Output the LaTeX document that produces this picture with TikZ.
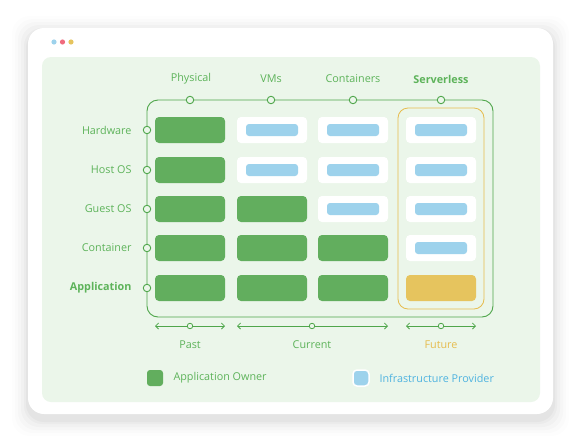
\documentclass[tikz,border=0pt]{standalone}
\usepackage{fontspec}
\setmainfont{Open Sans}
\usetikzlibrary{arrows.meta}
\definecolor{panel}{HTML}{EBF6EA}
\definecolor{cgreen}{HTML}{62AE5E}
\definecolor{tgreen}{HTML}{5DB35A}
\definecolor{lgreen}{HTML}{4FA64B}
\definecolor{cblue}{HTML}{9DD2EC}
\definecolor{tblue}{HTML}{4FB3E0}
\definecolor{cyellow}{HTML}{E6C45E}
\definecolor{tyellow}{HTML}{E6BC4E}
\definecolor{dred}{HTML}{F06B7E}
\tikzset{
  x=1pt, y=-1pt,
  ownerbox/.style={fill=cgreen, rounded corners=4pt, minimum width=70pt, minimum height=26pt, inner sep=0pt},
  whitebox/.style={fill=white, rounded corners=4pt, minimum width=70pt, minimum height=26pt, inner sep=0pt},
  bluebar/.style={fill=cblue, rounded corners=3pt, minimum width=52pt, minimum height=12pt, inner sep=0pt},
  futurebox/.style={fill=cyellow, rounded corners=4pt, minimum width=70pt, minimum height=26pt, inner sep=0pt},
  pin/.style={circle, draw=lgreen, fill=panel, line width=0.9pt, minimum size=7.5pt, inner sep=0pt},
  smallpin/.style={circle, draw=lgreen, fill=panel, line width=0.8pt, minimum size=5.5pt, inner sep=0pt},
  collabel/.style={text=tgreen, font=\fontsize{10.8}{13}\selectfont},
  rowlabel/.style={text=tgreen, font=\fontsize{10.8}{13}\selectfont, anchor=east},
  span/.style={draw=lgreen, line width=0.8pt, {Straight Barb[length=3pt,width=6pt]}-{Straight Barb[length=3pt,width=6pt]}},
}
\begin{document}
\begin{tikzpicture}
\useasboundingbox (0,0) rectangle (582,445);
\fill[white] (0,0) rectangle (582,445);
% shadow
\foreach \d/\o in {16/0.008,13/0.012,10/0.016,7/0.02,4/0.024,2/0.028}{
  \fill[black, opacity=\o, rounded corners=18pt] (28-\d,32-\d) rectangle (553+\d,420+\d);
}
% card
\fill[white, rounded corners=16pt] (28,28) rectangle (553,414);
\fill[cblue] (54,42) circle (2.6);
\fill[dred] (62.5,42) circle (2.6);
\fill[cyellow] (71,42) circle (2.6);
% panel
\fill[panel, rounded corners=9pt] (42,57) rectangle (540,402);
% big frame
\draw[lgreen, line width=0.9pt, rounded corners=11pt] (147,100) rectangle (493,317);
% serverless frame
\draw[tyellow, line width=0.8pt, rounded corners=10pt] (398,108) rectangle (484,309);
% column headers
\node[collabel] (hphys) at (191,79) {Physical};
\node[collabel] (hvm) at (271,79) {VMs};
\node[collabel] (hcont) at (353,79) {Containers};
\node[collabel, font=\fontsize{10.8}{13}\selectfont\bfseries] (hserv) at (441,79) {Serverless};
% pins top
\node[pin] (p1) at (190,100) {};
\node[pin] (p2) at (271,100) {};
\node[pin] (p3) at (353,100) {};
\node[pin] (p4) at (441,100) {};
% row labels and pins
\node[pin] (r1) at (147,130) {};
\node[pin] (r2) at (147,170) {};
\node[pin] (r3) at (147,209) {};
\node[pin] (r4) at (147,248) {};
\node[pin] (r5) at (147,288) {};
\node[rowlabel] (lhw) at (135,130) {Hardware};
\node[rowlabel] (lhos) at (135,170) {Host OS};
\node[rowlabel] (lgos) at (135,209) {Guest OS};
\node[rowlabel] (lcon) at (135,248) {Container};
\node[rowlabel, font=\fontsize{10.8}{13}\selectfont\bfseries] (lapp) at (135,288) {Application};
% physical column
\node[ownerbox] (c11) at (190,130) {};
\node[ownerbox] (c12) at (190,170) {};
\node[ownerbox] (c13) at (190,209) {};
\node[ownerbox] (c14) at (190,248) {};
\node[ownerbox] (c15) at (190,288) {};
% VMs column
\node[whitebox] (c21) at (272,130) {};
\node[bluebar] at (c21) {};
\node[whitebox] (c22) at (272,170) {};
\node[bluebar] at (c22) {};
\node[ownerbox] (c23) at (272,209) {};
\node[ownerbox] (c24) at (272,248) {};
\node[ownerbox] (c25) at (272,288) {};
% Containers column
\node[whitebox] (c31) at (353,130) {};
\node[bluebar] at (c31) {};
\node[whitebox] (c32) at (353,170) {};
\node[bluebar] at (c32) {};
\node[whitebox] (c33) at (353,209) {};
\node[bluebar] at (c33) {};
\node[ownerbox] (c34) at (353,248) {};
\node[ownerbox] (c35) at (353,288) {};
% Serverless column
\node[whitebox] (c41) at (441,130) {};
\node[bluebar] at (c41) {};
\node[whitebox] (c42) at (441,170) {};
\node[bluebar] at (c42) {};
\node[whitebox] (c43) at (441,209) {};
\node[bluebar] at (c43) {};
\node[whitebox] (c44) at (441,248) {};
\node[bluebar] at (c44) {};
\node[futurebox] (c45) at (441,288) {};
% spans
\coordinate (pastL) at (155,326);
\coordinate (pastR) at (225,326);
\coordinate (curL) at (237,326);
\coordinate (curR) at (388,326);
\coordinate (futL) at (406,326);
\coordinate (futR) at (476,326);
\draw[span] (pastL) -- (pastR);
\draw[span] (curL) -- (curR);
\draw[span] (futL) -- (futR);
\node[smallpin] (sp1) at (190,326) {};
\node[smallpin] (sp2) at (312,326) {};
\node[smallpin] (sp3) at (441,326) {};
\node[collabel] (tpast) at (190,345) {Past};
\node[collabel] (tcur) at (312,345) {Current};
\node[collabel, text=tyellow] (tfut) at (441,345) {Future};
% legend
\node[fill=cgreen, rounded corners=3pt, minimum size=16pt, inner sep=0pt] (lg1) at (155,378) {};
\node[collabel, anchor=west] (lt1) at (170,378) {Application Owner};
\node[fill=cblue, draw=white, line width=1.5pt, rounded corners=4pt, minimum size=16pt, inner sep=0pt] (lg2) at (361,378) {};
\node[collabel, text=tblue, anchor=west] (lt2) at (376,378) {Infrastructure Provider};
\end{tikzpicture}
\end{document}
